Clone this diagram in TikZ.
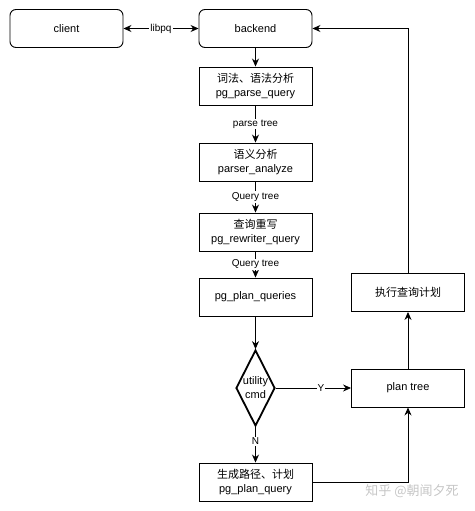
\documentclass[tikz,border=0pt]{standalone}
\usepackage{fontspec}
\setmainfont{Liberation Sans}
\newfontfamily\cjk{Noto Sans CJK SC}
\usetikzlibrary{arrows.meta, shapes.geometric, positioning}

\begin{document}
\begin{tikzpicture}[x=1pt, y=-1pt,
  stepbox/.style={draw, line width=0.9pt, minimum width=113pt, minimum height=38pt, align=center, font=\fontsize{11}{14}\selectfont, inner sep=2pt},
  endbox/.style={stepbox, rounded corners=6pt},
  decision/.style={diamond, draw, line width=1.8pt, minimum width=39pt, minimum height=76pt, inner sep=0pt},
  flow/.style={-{Stealth[length=8pt, width=7pt]}, line width=0.9pt},
  lbl/.style={fill=white, inner sep=1pt, font=\fontsize{10}{12}\selectfont},
]
\useasboundingbox (0,0) rectangle (474,511);

% Ends
\node[endbox] (client) at (66.5, 28.5) {client};
\node[endbox] (backend) at (255.5, 28.5) {backend};

% === Parse / analyze / rewrite ===
\node[stepbox] (parse) at (255.5, 86) {{\cjk 词法、语法分析}\\pg\_parse\_query};
\node[stepbox] (analyze) at (255.5, 162) {{\cjk 语义分析}\\parser\_analyze};
\node[stepbox] (rewrite) at (255.5, 232) {{\cjk 查询重写}\\pg\_rewriter\_query};
\node[stepbox] (planq) at (255.5, 297) {pg\_plan\_queries};

% === Planning ===
\node[decision, label={[align=center, font=\fontsize{11}{14}\selectfont]center:utility\\cmd}] (utility) at (255.5, 388) {};
\node[stepbox] (planquery) at (255.5, 482) {{\cjk 生成路径、计划}\\pg\_plan\_query};
\node[stepbox] (plantree) at (408, 388) {plan tree};
\node[stepbox] (exec) at (408, 292.5) {\cjk 执行查询计划};

% Connectors
\draw[{Stealth[length=8pt, width=7pt]}-{Stealth[length=8pt, width=7pt]}, line width=0.9pt] (client) -- node[lbl] {libpq} (backend);
\draw[flow] (backend) -- (parse);
\draw[flow] (parse) -- node[lbl] {parse tree} (analyze);
\draw[flow] (analyze) -- node[lbl] {Query tree} (rewrite);
\draw[flow] (rewrite) -- node[lbl] {Query tree} (planq);
\draw[flow] (planq) -- (utility);
\draw[flow] (utility.east) -- node[lbl, pos=0.6] {Y} (plantree);
\draw[flow] (utility.south) -- node[lbl, pos=0.4] {N} (planquery);
\draw[flow] (planquery.east) -| (plantree.south);
\draw[flow] (plantree) -- (exec);
\draw[flow] (exec.north) |- (backend.east);

% Watermark
\node[text=gray!45, font=\cjk\fontsize{13}{15}\selectfont] (mark) at (412, 491) {知乎 @朝闻夕死};
\end{tikzpicture}
\end{document}
